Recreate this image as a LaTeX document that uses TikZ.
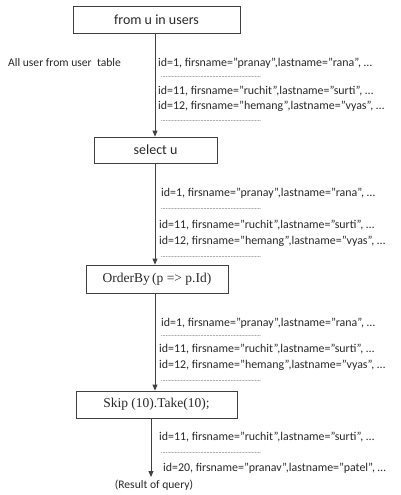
\documentclass[tikz,border=0pt]{standalone}
\usepackage{fontspec}
\setmainfont{Carlito}
\newfontfamily\serifbox{Liberation Serif}
\usetikzlibrary{arrows.meta}
\definecolor{txt}{RGB}{40,40,40}
\newcommand{\myDotRun}{..................................................................}
\tikzset{
  qbox/.style={draw=black!75, line width=0.8pt, minimum height=27pt, inner sep=0pt, font=\fontsize{14}{16}\selectfont, text=txt},
  sbox/.style={qbox, font=\serifbox\fontsize{13.5}{15}\selectfont},
  row/.style={anchor=west, inner sep=0pt, font=\fontsize{11.9}{14}\selectfont, text=txt},
  note/.style={row, font=\fontsize{11.6}{13}\selectfont},
  dotrow/.style={anchor=west, inner sep=0pt, font=\fontsize{6}{7}\selectfont, text=txt},
  arr/.style={draw=black!75, line width=0.9pt, -{Triangle[length=6pt,width=5pt]}},
}
\begin{document}
\begin{tikzpicture}[x=1pt,y=-1pt]
\useasboundingbox (0,0) rectangle (400,495);
\coordinate (ax) at (155,0);
\coordinate (bx) at (151,0);
\node[qbox, minimum width=167pt] (b1) at (156.5,20) {from u in users};
\node[qbox, minimum width=123pt, minimum height=26pt] (b2) at (155.5,150) {select u};
\node[sbox, minimum width=142pt, minimum height=28pt] (b3) at (157,279) {OrderBy\,(p => p.Id)};
\node[sbox, minimum width=161pt] (b4) at (156.5,404.5) {Skip (10).Take(10);};
\coordinate (res) at (151,477);
\draw[arr] (b1.south -| ax) -- (b2.north -| ax);
\draw[arr] (b2.south -| ax) -- (b3.north -| ax);
\draw[arr] (b3.south -| ax) -- (b4.north -| ax);
\draw[arr] (b4.south -| bx) -- (res);
\node[note] (lbl) at (8,63) {All user from user\ \ table};
% set 1
\node[row] (s1a) at (158,63) {id=1, firsname=”pranay”,lastname=”rana”, …};
\node[dotrow] (s1b) at (161,77) {\myDotRun};
\node[row] (s1c) at (158,91) {id=11, firsname=”ruchit”,lastname=”surti”, …};
\node[row] (s1d) at (158,106) {id=12, firsname=”hemang”,lastname=”vyas”, …};
\node[dotrow] (s1e) at (161,121) {\myDotRun};
% set 2
\node[row] (s2a) at (161,193) {id=1, firsname=”pranay”,lastname=”rana”, …};
\node[dotrow] (s2b) at (161,209) {\myDotRun};
\node[row] (s2c) at (159,225) {id=11, firsname=”ruchit”,lastname=”surti”, …};
\node[row] (s2d) at (159,241) {id=12, firsname=”hemang”,lastname=”vyas”, …};
\node[dotrow] (s2e) at (161,257) {\myDotRun};
% set 3
\node[row] (s3a) at (161,323) {id=1, firsname=”pranay”,lastname=”rana”, …};
\node[dotrow] (s3b) at (161,336) {\myDotRun};
\node[row] (s3c) at (159,349) {id=11, firsname=”ruchit”,lastname=”surti”, …};
\node[row] (s3d) at (159,365) {id=12, firsname=”hemang”,lastname=”vyas”, …};
\node[dotrow] (s3e) at (161,381) {\myDotRun};
% set 4
\node[row] (s4a) at (159,437) {id=11, firsname=”ruchit”,lastname=”surti”, …};
\node[dotrow] (s4b) at (161,453) {\myDotRun};
\node[row] (s4c) at (163,468) {id=20, firsname=”pranav”,lastname=”patel”, …};
\node[note, anchor=center] (rq) at (154,485) {(Result of query)};
\end{tikzpicture}
\end{document}
